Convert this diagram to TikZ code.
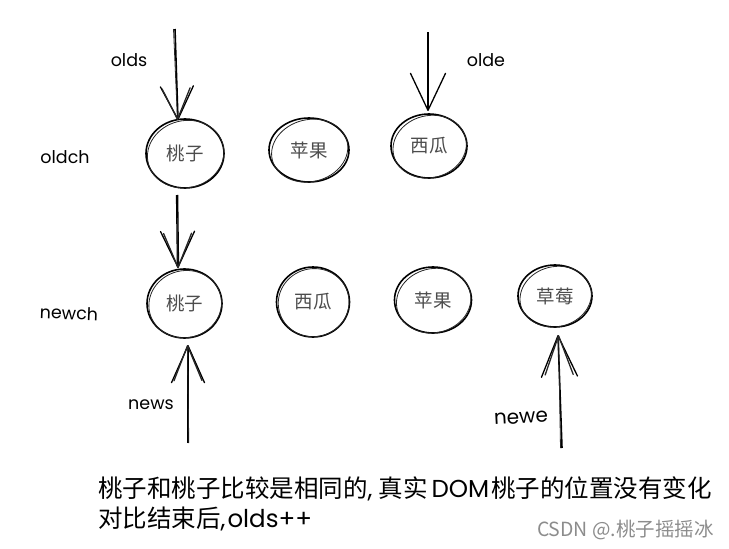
\documentclass[tikz,border=0pt]{standalone}
\usepackage{fontspec}
\setmainfont{Noto Sans CJK SC}
\newfontfamily\latinhand{Poppins}
\usetikzlibrary{arrows.meta,shapes.geometric}
\tikzset{
  x=1pt,y=-1pt,
  sketch/.style={line width=1.6pt,black},
  thinstroke/.style={line width=0.8pt,black!85},
  bubble/.style={ellipse,draw,sketch,inner sep=0pt,outer sep=0pt,text=black!70,font=\fontsize{18.5}{20}\selectfont},
  label/.style={inner sep=0pt,font=\latinhand\fontsize{17.5}{20}\selectfont,text=black},
  barbtip/.style n args={2}{-{Straight Barb[round,length=#1,width=#2,line width=1.3pt]}},
  caption/.style={inner sep=0pt,anchor=west,font=\fontsize{24.5}{28}\selectfont,text=black},
}
\begin{document}
\begin{tikzpicture}
\useasboundingbox (0,0) rectangle (729,549);
\node[bubble,minimum width=78pt,minimum height=69pt] (o1) at (185,153.5) {桃子};
\node[bubble,minimum width=80pt,minimum height=64pt] (o2) at (309,150) {苹果};
\node[bubble,minimum width=76pt,minimum height=64pt] (o3) at (429,146) {西瓜};
\node[bubble,minimum width=75pt,minimum height=69pt] (n1) at (184.5,303.5) {桃子};
\node[bubble,minimum width=73pt,minimum height=70pt] (n2) at (313,302) {西瓜};
\node[bubble,minimum width=77pt,minimum height=66pt] (n3) at (433,300) {苹果};
\node[bubble,minimum width=74pt,minimum height=62pt] (n4) at (555,296) {草莓};
\foreach \n/\rx/\ry in {o1/38.5/33.5,o2/38.5/31,o3/37/31,n1/36.5/33.5,n2/35.5/34,n3/37.5/32,n4/36/30}{
  \draw[thinstroke,rotate around={14:(\n.center)}] ([shift={(0.5,0.8)}]\n.center) ellipse [x radius=\rx,y radius=\ry];
}
\node[label] (lolds) at (129,60) {olds};
\node[label] (lolde) at (486,60) {olde};
\node[label] (loldch) at (65,157) {oldch};
\node[label,rotate=-2] (lnewch) at (69,313) {newch};
\node[label] (lnews) at (151,405) {news};
\node[label,font=\latinhand\fontsize{20}{22}\selectfont,rotate=3] (lnewe) at (521,418) {newe};
\coordinate (sa) at (175,29);
\coordinate (sb) at (428,32);
\coordinate (sc) at (188,443);
\coordinate (sd) at (562,448);
\draw[sketch,barbtip={33pt}{33pt}] (sa) -- ([xshift=-7pt,yshift=-1pt]o1.north);
\draw[thinstroke,barbtip={31pt}{28pt}] ([xshift=-1.5pt]sa) -- ([xshift=-7.5pt,yshift=-1pt]o1.north);
\draw[sketch,line width=2.4pt,barbtip={37pt}{35pt}] (sb) -- ([xshift=-1pt,yshift=3pt]o3.north);
\draw[sketch,line width=2.4pt,barbtip={36pt}{34pt},shorten <=7pt] ([xshift=-8pt]o1.south) -- ([xshift=-6.5pt,yshift=1pt]n1.north);
\draw[thinstroke,barbtip={34pt}{28pt},shorten <=30pt] ([xshift=-8pt]o1.south) -- ([xshift=-6.5pt,yshift=1pt]n1.north);
\draw[sketch,barbtip={37pt}{33pt}] (sc) -- ([xshift=3.5pt,yshift=-7pt]n1.south);
\draw[thinstroke,barbtip={35pt}{28pt}] ([xshift=0.8pt]sc) -- ([xshift=3pt,yshift=-7pt]n1.south);
\draw[sketch,barbtip={41pt}{36pt}] (sd) -- ([xshift=3pt,yshift=-8pt]n4.south);
\draw[thinstroke,barbtip={39pt}{28pt}] ([xshift=-1.5pt]sd) -- ([xshift=3.5pt,yshift=-8pt]n4.south);
\node[caption] (cap1) at (98,488.5) {桃子和桃子比较是相同的{\latinhand,}\hspace{6pt}真实\hspace{4pt}{\latinhand DOM}\hspace{2pt}桃子的位置没有变化};
\node[caption] (cap2) at (98,519) {对比结束后{\latinhand,}\hspace{2pt}{\latinhand olds++}};
\node[inner sep=0pt,anchor=east,text=black!45,font=\fontsize{19.5}{22}\selectfont] (mark) at (714,530) {CSDN @.桃子摇摇冰};
\end{tikzpicture}
\end{document}
